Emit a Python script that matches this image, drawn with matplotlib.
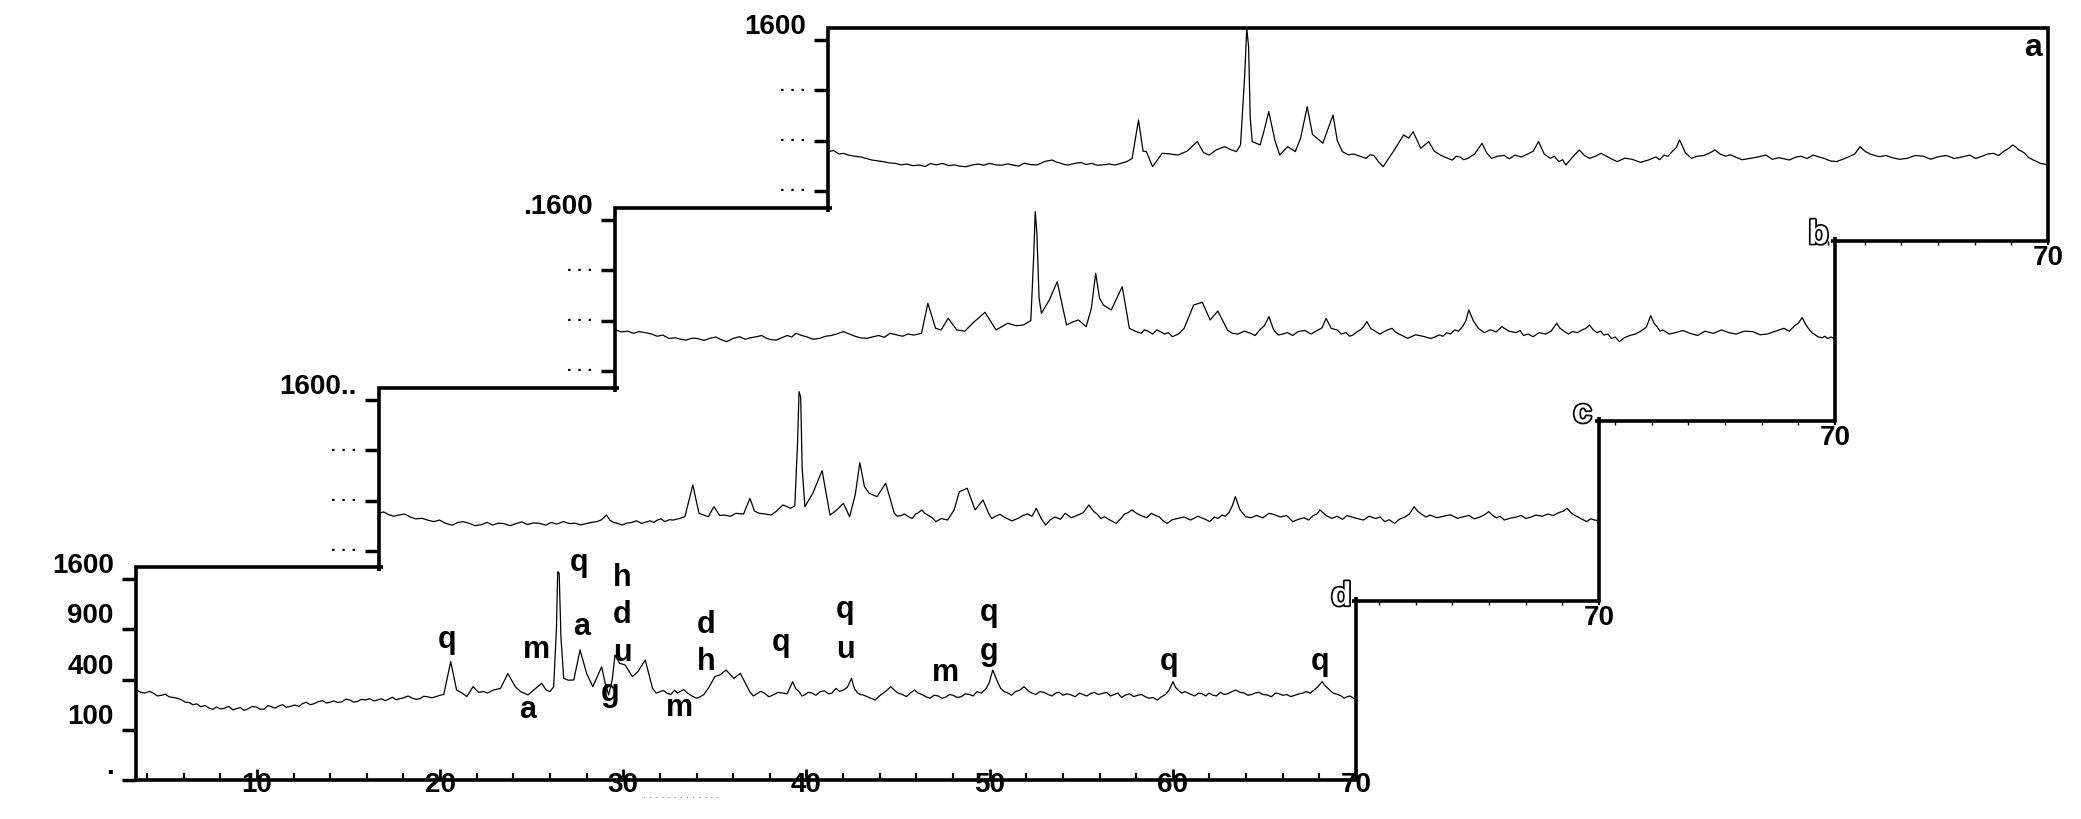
import numpy as np
import matplotlib
matplotlib.use("Agg")
import matplotlib.pyplot as plt
import matplotlib.patheffects as pe
from matplotlib.patches import Rectangle

plt.rcParams["font.family"] = ["Liberation Sans", "DejaVu Sans"]

# (2theta, counts)
points_d = [
    (3.42, 321), (3.66, 305), (3.9, 300), (4.13, 312), (4.36, 298), (4.58, 280), (4.8, 285),
    (5.0, 292), (5.2, 275), (5.42, 270), (5.65, 265), (5.88, 255), (6.1, 240), (6.3, 238),
    (6.5, 225), (6.72, 230), (6.93, 213), (7.17, 220), (7.4, 205), (7.6, 198), (7.8, 212),
    (8.0, 200), (8.22, 204), (8.46, 215), (8.7, 195), (8.9, 203), (9.1, 208), (9.3, 192),
    (9.5, 200), (9.75, 215), (10.0, 210), (10.2, 198), (10.4, 200), (10.6, 220), (10.79, 213),
    (11.0, 205), (11.2, 218), (11.4, 225), (11.6, 210), (11.83, 215), (12.07, 223), (12.3, 215),
    (12.5, 232), (12.7, 240), (12.9, 225), (13.1, 230), (13.35, 243), (13.58, 250), (13.8, 235),
    (14.0, 240), (14.2, 248), (14.42, 238), (14.64, 243), (14.87, 260), (15.1, 252), (15.3, 240),
    (15.5, 245), (15.7, 258), (15.92, 254), (16.16, 262), (16.4, 248), (16.6, 255), (16.8, 262),
    (17.0, 250), (17.21, 260), (17.4, 272), (17.6, 255), (17.8, 262), (18.0, 268), (18.25, 280),
    (18.49, 265), (18.7, 258), (18.9, 262), (19.1, 278), (19.3, 275), (19.55, 268), (19.78, 276),
    (20.0, 285), (20.2, 290), (20.58, 556), (20.9, 321), (21.2, 300), (21.46, 276), (21.8, 346),
    (22.1, 305), (22.37, 310), (22.6, 300), (22.9, 321), (23.3, 333), (23.7, 450), (24.1, 346),
    (24.4, 310), (24.8, 287), (25.1, 320), (25.55, 371), (25.8, 320), (26.0, 310), (26.2, 345),
    (26.35, 900), (26.42, 1720), (26.5, 1700), (26.6, 800), (26.75, 410), (27.0, 395),
    (27.3, 397), (27.64, 671), (28.0, 450), (28.34, 346), (28.82, 509), (29.0, 380), (29.2, 287),
    (29.4, 400), (29.55, 620), (29.8, 540), (30.1, 525), (30.5, 424), (30.8, 466), (31.2, 571),
    (31.6, 333), (31.8, 300), (32.0, 310), (32.2, 318), (32.4, 298), (32.6, 290), (32.8, 320),
    (32.95, 300), (33.1, 310), (33.3, 325), (33.5, 300), (33.75, 280), (34.0, 265), (34.2, 275),
    (34.4, 290), (34.7, 346), (35.0, 424), (35.3, 440), (35.61, 480), (36.04, 410), (36.39, 451),
    (36.9, 310), (37.1, 280), (37.3, 295), (37.5, 312), (37.7, 300), (37.95, 275), (38.18, 287),
    (38.45, 305), (38.7, 300), (38.95, 295), (39.25, 384), (39.42, 330), (39.6, 310), (39.75, 280),
    (39.9, 287), (40.1, 305), (40.3, 300), (40.52, 285), (40.75, 310), (40.98, 315), (41.2, 295),
    (41.4, 300), (41.61, 333), (41.8, 312), (42.0, 320), (42.23, 340), (42.46, 410), (42.62, 330),
    (42.8, 300), (42.95, 290), (43.1, 287), (43.42, 270), (43.75, 254), (43.98, 280), (44.2, 300),
    (44.4, 320), (44.6, 346), (44.8, 320), (45.0, 300), (45.23, 290), (45.46, 276), (45.67, 300),
    (45.89, 321), (46.1, 300), (46.3, 290), (46.52, 275), (46.74, 265), (46.97, 285), (47.2, 280),
    (47.4, 265), (47.6, 272), (47.8, 290), (48.0, 285), (48.23, 270), (48.46, 276), (48.68, 295),
    (48.9, 290), (49.1, 280), (49.31, 310), (49.55, 300), (49.8, 330), (49.99, 380), (50.17, 480),
    (50.38, 400), (50.6, 333), (50.8, 310), (51.0, 300), (51.2, 285), (51.4, 310), (51.64, 320),
    (51.88, 346), (52.1, 315), (52.3, 300), (52.52, 290), (52.74, 310), (52.97, 305), (53.2, 290),
    (53.4, 280), (53.6, 300), (53.8, 305), (54.0, 285), (54.22, 295), (54.45, 287), (54.67, 275),
    (54.9, 300), (55.1, 290), (55.3, 280), (55.5, 295), (55.7, 305), (55.93, 290), (56.16, 298),
    (56.38, 305), (56.6, 280), (56.8, 290), (57.0, 300), (57.2, 270), (57.4, 285), (57.63, 295),
    (57.87, 276), (58.08, 285), (58.3, 290), (58.5, 275), (58.7, 265), (58.93, 270), (59.16, 254),
    (59.38, 275), (59.6, 290), (59.8, 320), (60.01, 384), (60.15, 340), (60.3, 320), (60.48, 300),
    (60.66, 310), (60.83, 300), (61.0, 290), (61.2, 280), (61.4, 300), (61.6, 295), (61.8, 280),
    (61.98, 300), (62.15, 287), (62.38, 280), (62.6, 305), (62.8, 290), (63.0, 295), (63.22, 310),
    (63.44, 321), (63.67, 305), (63.9, 300), (64.1, 285), (64.3, 290), (64.5, 300), (64.7, 305),
    (64.92, 290), (65.15, 287), (65.38, 275), (65.6, 300), (65.8, 295), (66.0, 285), (66.22, 290),
    (66.44, 276), (66.67, 285), (66.9, 295), (67.1, 300), (67.29, 310), (67.5, 300), (67.7, 320),
    (67.92, 345), (68.15, 384), (68.32, 350), (68.5, 330), (68.65, 310), (68.79, 298), (69.0, 290),
    (69.2, 280), (69.35, 265), (69.5, 275), (69.68, 280), (69.86, 265), (70.0, 262)]

points_c = [
    (3.4, 305), (3.65, 315), (3.9, 298), (4.2, 285), (4.47, 293), (4.8, 300), (5.1, 280),
    (5.4, 268), (5.76, 271), (6.1, 258), (6.4, 250), (6.7, 260), (7.04, 239), (7.4, 228),
    (7.7, 245), (8.0, 250), (8.33, 239), (8.65, 225), (9.0, 232), (9.3, 245), (9.61, 229),
    (9.9, 240), (10.2, 238), (10.55, 225), (10.9, 239), (11.2, 248), (11.5, 232), (11.85, 242),
    (12.18, 239), (12.5, 228), (12.8, 245), (13.1, 235), (13.46, 250), (13.8, 238), (14.1, 240),
    (14.4, 230), (14.75, 239), (15.0, 245), (15.3, 250), (15.55, 262), (15.82, 293), (16.0, 260),
    (16.2, 245), (16.45, 238), (16.67, 229), (16.9, 240), (17.2, 245), (17.45, 255), (17.74, 239),
    (18.0, 248), (18.2, 255), (18.4, 245), (18.6, 260), (18.8, 268), (19.0, 250), (19.25, 262),
    (19.46, 260), (19.8, 270), (20.1, 282), (20.53, 534), (20.87, 305), (21.38, 282), (21.68, 353),
    (22.0, 290), (22.24, 293), (22.6, 285), (22.88, 305), (23.3, 300), (23.65, 418), (23.9, 320),
    (24.17, 305), (24.5, 300), (24.81, 293), (25.1, 320), (25.45, 366), (25.88, 341), (26.1, 360),
    (26.25, 1000), (26.33, 1739), (26.42, 1650), (26.5, 700), (26.65, 353), (27.08, 460),
    (27.59, 674), (28.02, 293), (28.4, 330), (28.75, 379), (29.09, 282), (29.4, 450), (29.65, 759),
    (29.9, 520), (30.16, 460), (30.59, 432), (31.06, 550), (31.53, 305), (31.7, 285), (31.9, 290),
    (32.1, 300), (32.3, 282), (32.5, 270), (32.7, 300), (32.85, 310), (33.03, 329), (33.2, 305),
    (33.4, 290), (33.6, 275), (33.8, 250), (34.1, 270), (34.44, 260), (34.8, 330), (35.08, 474),
    (35.51, 504), (35.94, 329), (36.37, 405), (36.7, 300), (36.85, 270), (37.01, 282), (37.3, 298),
    (37.6, 275), (37.95, 255), (38.29, 271), (38.55, 290), (38.8, 300), (39.05, 285), (39.28, 341),
    (39.55, 270), (39.79, 229), (40.05, 262), (40.3, 280), (40.6, 265), (40.86, 305), (41.2, 275),
    (41.5, 290), (41.85, 310), (42.15, 366), (42.4, 320), (42.6, 300), (42.8, 270), (43.0, 282),
    (43.3, 260), (43.64, 239), (43.9, 270), (44.1, 300), (44.3, 310), (44.5, 329), (44.75, 305),
    (45.0, 290), (45.3, 275), (45.57, 305), (45.8, 290), (46.0, 280), (46.2, 255), (46.43, 239),
    (46.7, 262), (47.0, 270), (47.35, 280), (47.71, 260), (48.1, 285), (48.5, 265), (48.75, 250),
    (49.0, 280), (49.2, 270), (49.42, 293), (49.6, 285), (49.8, 310), (49.98, 360), (50.15, 432),
    (50.4, 330), (50.71, 282), (51.0, 275), (51.3, 290), (51.65, 275), (51.99, 305), (52.3, 295),
    (52.6, 280), (52.95, 290), (53.28, 250), (53.6, 265), (53.9, 275), (54.15, 260), (54.4, 290),
    (54.6, 300), (54.77, 329), (55.1, 290), (55.42, 271), (55.7, 285), (56.0, 265), (56.25, 290),
    (56.5, 280), (56.8, 270), (57.13, 260), (57.45, 285), (57.8, 270), (58.05, 280), (58.3, 250),
    (58.55, 262), (58.84, 239), (59.1, 265), (59.4, 280), (59.65, 300), (59.91, 353), (60.1, 320),
    (60.3, 300), (60.55, 280), (60.77, 293), (61.15, 275), (61.5, 285), (61.9, 295), (62.27, 271),
    (62.6, 282), (62.9, 290), (63.2, 268), (63.5, 280), (63.75, 295), (63.98, 317), (64.2, 290),
    (64.4, 275), (64.6, 285), (64.83, 260), (65.15, 272), (65.5, 280), (65.75, 290), (66.0, 270),
    (66.3, 280), (66.55, 293), (66.9, 285), (67.2, 300), (67.5, 290), (67.8, 310), (68.05, 320),
    (68.26, 341), (68.5, 305), (68.7, 290), (69.0, 270), (69.33, 250), (69.55, 268), (69.76, 260),
    (70.0, 255)]

points_b = [
    (3.44, 329), (3.75, 315), (4.1, 320), (4.4, 305), (4.72, 317), (5.05, 310), (5.4, 300),
    (5.7, 285), (6.01, 293), (6.35, 270), (6.7, 275), (7.0, 265), (7.29, 260), (7.6, 272),
    (7.9, 270), (8.25, 258), (8.58, 271), (8.9, 280), (9.2, 262), (9.5, 250), (9.86, 271),
    (10.2, 282), (10.5, 265), (10.8, 275), (11.14, 282), (11.4, 290), (11.7, 270), (11.95, 262),
    (12.21, 260), (12.5, 275), (12.8, 290), (13.05, 280), (13.28, 305), (13.6, 290), (13.9, 280),
    (14.2, 265), (14.57, 271), (14.9, 285), (15.2, 290), (15.5, 300), (15.85, 317), (16.2, 300),
    (16.5, 285), (16.8, 275), (17.14, 271), (17.5, 282), (17.8, 290), (18.1, 278), (18.42, 305),
    (18.75, 295), (19.1, 285), (19.4, 300), (19.71, 293), (20.13, 305), (20.48, 550), (20.9, 341),
    (21.2, 329), (21.59, 418), (22.06, 329), (22.5, 320), (22.92, 379), (23.6, 469), (24.2, 329),
    (24.84, 379), (25.3, 360), (25.7, 366), (26.1, 400), (26.26, 1100), (26.34, 1739),
    (26.43, 1400), (26.55, 600), (26.68, 460), (27.11, 581), (27.54, 770), (28.05, 366),
    (28.4, 390), (28.7, 405), (29.12, 353), (29.4, 500), (29.64, 866), (29.85, 600), (30.06, 534),
    (30.49, 489), (31.09, 716), (31.48, 341), (31.8, 320), (32.12, 305), (32.3, 330), (32.5, 320),
    (32.75, 300), (32.98, 329), (33.2, 315), (33.4, 300), (33.6, 310), (33.83, 282), (34.15, 300),
    (34.47, 341), (34.99, 534), (35.46, 559), (35.89, 405), (36.31, 480), (36.83, 329), (37.1, 305),
    (37.4, 300), (37.75, 320), (38.11, 305), (38.35, 290), (38.6, 330), (38.85, 360), (39.1, 432),
    (39.35, 330), (39.61, 293), (39.85, 300), (40.1, 310), (40.4, 290), (40.68, 317), (41.05, 325),
    (41.4, 300), (41.6, 315), (41.8, 330), (42.0, 345), (42.22, 418), (42.5, 340), (42.82, 329),
    (43.05, 300), (43.3, 310), (43.5, 285), (43.68, 293), (43.9, 315), (44.1, 330), (44.25, 350),
    (44.45, 392), (44.65, 340), (44.9, 320), (45.15, 300), (45.39, 317), (45.6, 330), (45.82, 341),
    (46.0, 315), (46.2, 300), (46.45, 285), (46.67, 271), (47.1, 295), (47.5, 285), (47.95, 270),
    (48.39, 293), (48.6, 285), (48.8, 310), (49.0, 300), (49.24, 329), (49.45, 320), (49.7, 360),
    (49.85, 400), (50.01, 489), (50.25, 400), (50.53, 341), (50.85, 310), (51.2, 330), (51.5, 315),
    (51.81, 353), (52.2, 320), (52.6, 310), (52.8, 325), (53.0, 290), (53.25, 300), (53.52, 282),
    (53.85, 310), (54.2, 300), (54.5, 320), (54.81, 379), (55.0, 340), (55.2, 320), (55.45, 300),
    (55.66, 317), (55.95, 310), (56.2, 330), (56.4, 340), (56.6, 366), (56.8, 330), (57.0, 310),
    (57.2, 320), (57.38, 293), (57.6, 300), (57.8, 270), (58.0, 280), (58.23, 250), (58.5, 275),
    (58.8, 290), (59.1, 300), (59.4, 320), (59.7, 350), (59.94, 440), (60.12, 380), (60.3, 350),
    (60.45, 320), (60.59, 329), (60.95, 300), (61.3, 310), (61.7, 325), (62.08, 305), (62.5, 290),
    (62.9, 320), (63.35, 305), (63.8, 329), (64.2, 310), (64.6, 300), (65.05, 320), (65.51, 317),
    (65.9, 295), (66.3, 300), (66.75, 320), (67.22, 341), (67.5, 320), (67.8, 360), (68.0, 380),
    (68.21, 424), (68.4, 370), (68.6, 330), (68.78, 305), (68.93, 293), (69.1, 280), (69.3, 275),
    (69.45, 285), (69.58, 271), (69.8, 280), (70.0, 265)]

points_a = [
    (3.44, 317), (3.7, 325), (4.0, 300), (4.25, 305), (4.51, 293), (4.85, 285), (5.2, 280),
    (5.5, 270), (5.8, 260), (6.1, 255), (6.4, 250), (6.75, 242), (7.08, 239), (7.4, 230),
    (7.7, 235), (8.05, 225), (8.37, 229), (8.7, 220), (9.0, 238), (9.3, 230), (9.65, 239),
    (10.0, 225), (10.3, 230), (10.6, 222), (10.94, 219), (11.3, 230), (11.6, 235), (11.9, 228),
    (12.22, 239), (12.55, 230), (12.9, 228), (13.2, 236), (13.5, 229), (13.8, 222), (14.1, 240),
    (14.45, 232), (14.79, 229), (15.0, 238), (15.2, 250), (15.4, 255), (15.64, 260), (15.85, 248),
    (16.1, 240), (16.3, 232), (16.5, 229), (16.85, 238), (17.2, 245), (17.5, 232), (17.79, 239),
    (18.1, 228), (18.4, 230), (18.75, 235), (19.07, 229), (19.4, 240), (19.71, 250), (20.0, 270),
    (20.35, 581), (20.6, 320), (20.78, 317), (21.12, 219), (21.64, 305), (22.1, 300), (22.49, 293),
    (23.0, 320), (23.56, 392), (23.9, 310), (24.21, 293), (24.6, 330), (25.06, 353), (25.4, 330),
    (25.7, 317), (25.92, 366), (26.15, 1100), (26.26, 1795), (26.36, 1500), (26.45, 600),
    (26.56, 392), (26.99, 366), (27.2, 480), (27.46, 664), (27.8, 400), (28.06, 293), (28.49, 353),
    (28.91, 317), (29.2, 420), (29.56, 716), (29.85, 450), (30.11, 418), (30.41, 379), (30.97, 630),
    (31.2, 400), (31.48, 317), (31.8, 295), (32.1, 300), (32.45, 285), (32.77, 271), (33.0, 295),
    (33.2, 290), (33.45, 250), (33.71, 219), (34.0, 270), (34.26, 317), (34.82, 446), (35.1, 420),
    (35.34, 474), (35.76, 341), (36.19, 392), (36.5, 320), (36.83, 293), (37.15, 275), (37.48, 260),
    (37.7, 285), (37.9, 280), (38.1, 262), (38.33, 271), (38.7, 300), (39.1, 379), (39.35, 310),
    (39.62, 271), (39.95, 285), (40.3, 290), (40.6, 268), (40.9, 293), (41.25, 280), (41.6, 300),
    (41.9, 320), (42.19, 392), (42.5, 300), (42.83, 271), (43.05, 285), (43.3, 250), (43.5, 262),
    (43.68, 229), (44.05, 280), (44.41, 329), (44.7, 290), (44.97, 271), (45.3, 285), (45.61, 305),
    (46.05, 275), (46.47, 250), (46.9, 272), (47.3, 265), (47.75, 245), (48.18, 260), (48.4, 270),
    (48.6, 280), (48.8, 262), (49.04, 293), (49.25, 285), (49.5, 320), (49.7, 345), (49.89, 405),
    (50.2, 310), (50.53, 271), (50.85, 285), (51.2, 290), (51.5, 305), (51.82, 329), (52.1, 300),
    (52.4, 285), (52.65, 295), (52.89, 282), (53.3, 262), (53.7, 270), (54.15, 280), (54.6, 293),
    (54.95, 265), (55.3, 275), (55.6, 268), (55.88, 260), (56.2, 278), (56.5, 285), (56.85, 270),
    (57.17, 293), (57.5, 280), (57.8, 270), (58.1, 255), (58.45, 250), (58.8, 265), (59.1, 280),
    (59.45, 300), (59.74, 353), (60.0, 320), (60.3, 300), (60.55, 290), (60.81, 282), (61.15, 290),
    (61.5, 275), (61.9, 265), (62.31, 271), (62.75, 290), (63.2, 285), (63.6, 265), (64.02, 282),
    (64.45, 290), (64.9, 270), (65.3, 280), (65.73, 293), (66.05, 270), (66.4, 285), (66.7, 300),
    (67.01, 305), (67.3, 290), (67.6, 320), (67.85, 340), (68.08, 366), (68.25, 350), (68.4, 330),
    (68.55, 320), (68.73, 305), (68.95, 275), (69.2, 260), (69.4, 250), (69.58, 239), (69.8, 235),
    (70.0, 229)]

# phase letters over pattern d
peak_letters = ["q", "m", "a", "q", "a", "h", "d", "u", "g", "m",
                "d", "h", "q", "q", "u", "m", "q", "g", "q", "q"]
letter_tth = [20.4, 25.25, 24.8, 27.6, 27.7, 29.96, 29.96, 29.96, 29.3, 33.05,
              34.55, 34.55, 38.6, 42.12, 42.12, 47.6, 49.96, 49.96, 59.8, 68.06]
letter_int = [778, 671, 194, 1863, 932, 1614, 1080, 637, 298, 204,
              953, 556, 741, 1147, 671, 452, 1103, 653, 556, 556]

panel_names = ["d", "c", "b", "a"]
panel_points = [points_d, points_c, points_b, points_a]
name_pos = [(69.2, 1330), (69.1, 1390), (69.1, 1370), (69.2, 1480)]

dots = "\u00b7 \u00b7 \u00b7"
y_ticks_d = [0, 100, 400, 900, 1600]
y_labels_d = [".", "100", "400", "900", "1600"]
y_ticks_up = [100, 400, 900, 1600]
y_labels_up = {"c": [dots, dots, dots, "1600.."],
               "b": [dots, dots, dots, ".1600"],
               "a": [dots, dots, dots, "1600"]}
x_ticks_d = [10, 20, 30, 40, 50, 60, 70]

# layout in pixels (staircase waterfall)
W, H = 2081, 819
panel_left = [136, 379, 615, 828]
panel_base = [780, 601, 421, 241]
panel_w, panel_h = 1220, 213


def fwd(v):
    return np.sqrt(np.clip(v, 0, None))


def inv(v):
    return np.square(v)


fig = plt.figure(figsize=(W / 100, H / 100), dpi=100)

boxes = [(l / W, (H - b) / H, panel_w / W, panel_h / H) for l, b in zip(panel_left, panel_base)]

# outline of the union of the panel boxes
for x0, y0, w, h in boxes:
    fig.add_artist(Rectangle((x0, y0), w, h, transform=fig.transFigure, fill=False,
                             lw=2.6, ec="black", zorder=1))
ix, iy = 4 / W, 4 / H
for x0, y0, w, h in boxes:
    fig.add_artist(Rectangle((x0 + ix, y0 + iy), w - 2 * ix, h - 2 * iy,
                             transform=fig.transFigure, fc="white", ec="none", zorder=2))

for name, box, pts, npos in zip(panel_names, boxes, panel_points, name_pos):
    tth = [p[0] for p in pts]
    inten = [p[1] for p in pts]
    ax = fig.add_axes(box)
    ax.set_zorder(3)
    ax.patch.set_visible(False)
    for s in ax.spines.values():
        s.set_visible(False)
    ax.set_yscale("function", functions=(fwd, inv))
    ax.plot(tth, inten, color="black", lw=0.9)
    ax.set_xlim(3.4, 70)
    ax.set_ylim(0, 1800)

    if name == "d":
        ax.set_yticks(y_ticks_d)
        ax.set_yticklabels(y_labels_d)
        ax.set_xticks(x_ticks_d)
        ax.set_xticklabels([str(t) for t in x_ticks_d])
        ax.set_xticks([t for t in range(4, 70, 2) if t % 10], minor=True)
        ax.tick_params(axis="x", which="major", direction="in", length=8, width=2,
                       labelsize=20, pad=-6)
        ax.tick_params(axis="x", which="minor", direction="in", length=5, width=1.5)
        for t, s, yv in zip(letter_tth, peak_letters, letter_int):
            ax.text(t, yv, s, ha="center", va="center", fontsize=22,
                    fontweight="bold", clip_on=False)
        ax.text(31.1, -0.085, ". . . . . . . . . . . . .", transform=ax.get_xaxis_transform(),
                fontsize=8, color="0.35")
    else:
        ax.set_yticks(y_ticks_up)
        ax.set_yticklabels(y_labels_up[name])
        ax.set_xticks([70])
        ax.set_xticklabels(["70"])
        ax.set_xticks([58, 60, 62, 64, 66, 68], minor=True)
        ax.tick_params(axis="x", which="major", direction="out", length=3, width=1.5,
                       labelsize=20, pad=0)
        ax.tick_params(axis="x", which="minor", direction="out", length=3, width=1)
    ax.tick_params(axis="y", direction="out", length=10, width=2.5, labelsize=20, pad=6)
    for lab in ax.get_yticklabels() + ax.get_xticklabels():
        lab.set_fontweight("bold")
    for lab in ax.get_yticklabels():
        lab.set_va("bottom")
        if lab.get_text() == dots:
            lab.set_fontsize(12)
            lab.set_va("center")

    if name == "a":
        ax.text(npos[0], npos[1], name, ha="center", va="center", fontsize=23,
                fontweight="bold")
    else:
        ax.text(npos[0], npos[1], name, ha="center", va="center", fontsize=24,
                fontweight="bold", color="white",
                path_effects=[pe.withStroke(linewidth=2.5, foreground="black")])

fig.savefig("out.png", dpi=100)
